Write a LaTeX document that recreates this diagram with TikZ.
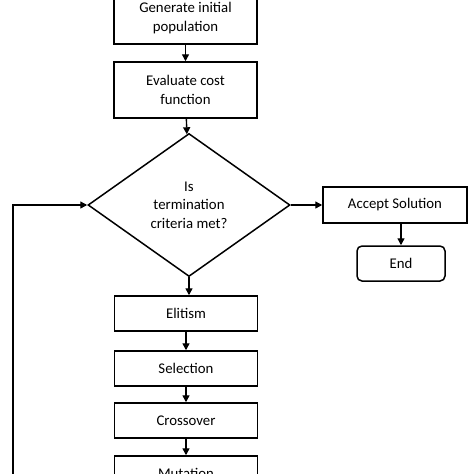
\documentclass[tikz,border=0pt]{standalone}
\usepackage{fontspec}
\setmainfont{Carlito}
\usetikzlibrary{shapes.geometric,arrows.meta}
\begin{document}
\begin{tikzpicture}[x=1pt,y=-1pt,
  every node/.style={font=\fontsize{14.8}{18.5}\selectfont, align=center},
  box/.style={draw, line width=1.5pt, minimum width=143pt, inner sep=0pt},
  decision/.style={draw, diamond, line width=1.5pt, minimum width=202pt, minimum height=143pt, inner sep=0pt},
  term/.style={draw, line width=1.5pt, rounded corners=5pt, minimum width=88pt, minimum height=35pt, inner sep=0pt},
  arr/.style={line width=1.4pt, -{Triangle[length=7pt,width=7pt]}}]
\useasboundingbox (0,0) rectangle (474,474);
\clip (0,0) rectangle (474,474);
\node[box, minimum height=52pt] (gen) at (185.5,18) {Generate initial\\population};
\node[box, minimum height=56pt] (eval) at (185.5,90) {Evaluate cost\\function};
\node[decision] (dec) at (189,205) {Is\\termination\\criteria met?};
\node[box, minimum width=144pt, minimum height=36pt] (acc) at (395,205) {Accept Solution};
\node[term] (end) at (401,263.5) {End};
\node[box, minimum height=35pt] (eli) at (186,313.5) {Elitism};
\node[box, minimum height=35pt] (sel) at (186,368.5) {Selection};
\node[box, minimum height=35pt] (cro) at (186,420.5) {Crossover};
\node[box, minimum height=35pt] (mut) at (186,473.5) {Mutation};
\coordinate (loop) at (13,490);
\draw[arr] (gen) -- (eval);
\draw[arr] (eval) -- (dec);
\draw[arr] (dec.east) -- (acc.west);
\draw[arr] (acc.south -| end.north) -- (end.north);
\draw[arr] (dec.south) -- (eli.north -| dec.south);
\draw[arr] (eli) -- (sel);
\draw[arr] (sel) -- (cro);
\draw[arr] (cro) -- (mut);
\draw[arr] (loop) |- (dec.west);
\end{tikzpicture}
\end{document}
